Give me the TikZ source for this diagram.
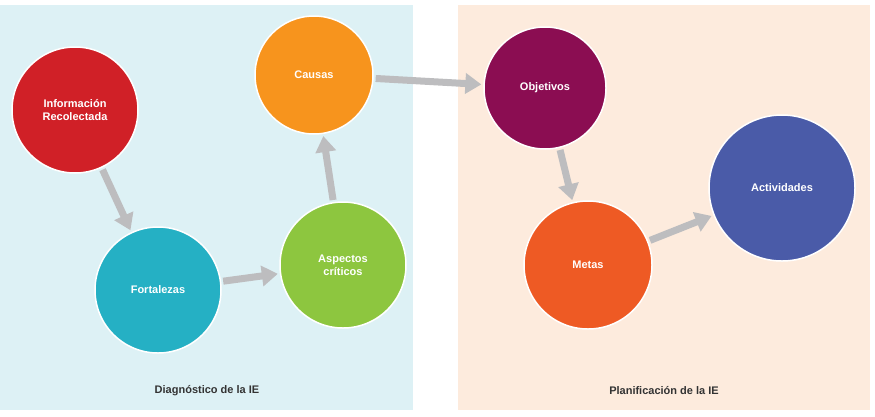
\documentclass[tikz,border=0pt]{standalone}
\usepackage{fontspec}
\setmainfont{Liberation Sans}
\usetikzlibrary{arrows.meta}
\definecolor{lpan}{HTML}{DDF1F5}
\definecolor{rpan}{HTML}{FDEBDD}
\definecolor{cred}{HTML}{D02027}
\definecolor{cteal}{HTML}{25B0C4}
\definecolor{cgreen}{HTML}{8DC63F}
\definecolor{corange}{HTML}{F7941D}
\definecolor{cpurple}{HTML}{8B0D52}
\definecolor{cmeta}{HTML}{EE5A24}
\definecolor{cblue}{HTML}{4A5BA8}
\definecolor{arr}{HTML}{BDBDBF}
\begin{document}
\begin{tikzpicture}[x=1pt,y=-1pt,
  circ/.style={circle,draw=white,line width=1.5pt,text=white,font=\bfseries\fontsize{11}{13}\selectfont,align=center,inner sep=0pt},
  conn/.style={arr,line width=7pt,-{Triangle[length=16pt,width=20pt]},shorten <=2pt,shorten >=2pt},
  lbl/.style={font=\bfseries\fontsize{11}{13}\selectfont,text=black!80}]
\useasboundingbox (0,0) rectangle (875,416);
\fill[lpan] (0,5) rectangle (413,410);
\fill[rpan] (458,5) rectangle (870,410);
\node[circ,fill=cred,minimum size=126pt] (info) at (75,110) {Información\\Recolectada};
\node[circ,fill=cteal,minimum size=126pt] (fort) at (158,290) {Fortalezas};
\node[circ,fill=cgreen,minimum size=126pt] (asp) at (343,265) {Aspectos\\críticos};
\node[circ,fill=corange,minimum size=118pt] (caus) at (314,75) {Causas};
\node[circ,fill=cpurple,minimum size=122pt] (obj) at (545,88) {Objetivos};
\node[circ,fill=cmeta,minimum size=128pt] (met) at (588,265) {Metas};
\node[circ,fill=cblue,minimum size=146pt] (act) at (782,188) {Actividades};
\draw[conn] (info) -- (fort);
\draw[conn] (fort) -- (asp);
\draw[conn] (asp) -- (caus);
\draw[conn] (caus) -- (obj);
\draw[conn] (obj) -- (met);
\draw[conn] (met) -- (act);
\node[lbl] (d) at (207,391) {Diagnóstico de la IE};
\node[lbl] (p) at (664,391) {Planificación de la IE};
\end{tikzpicture}
\end{document}
